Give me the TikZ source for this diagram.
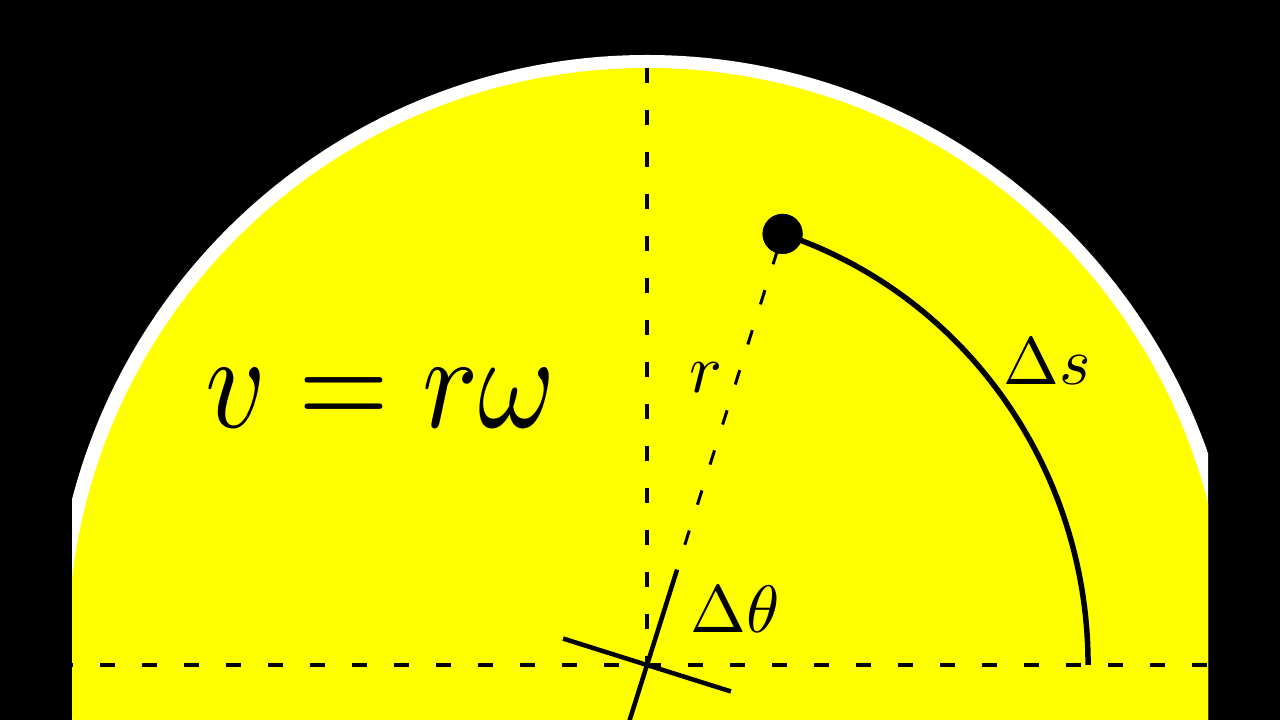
\documentclass[tikz,border=0pt]{standalone}
\usetikzlibrary{positioning,calc}
\definecolor{disk}{RGB}{255,255,0}

\begin{document}
\begin{tikzpicture}[x=1pt, y=1pt,
    guide/.style={line width=3.5pt, dash pattern=on 15pt off 27pt},
    radline/.style={line width=3pt, dash pattern=on 15pt off 27pt},
    tickline/.style={line width=4.5pt},
    tag/.style={anchor=base west, inner sep=0pt}]
  \useasboundingbox (0,0) rectangle (1280,720);
  \clip (0,0) rectangle (1280,720);
  \fill[black] (0,0) rectangle (1280,720);
  % disk
  \begin{scope}
    \clip (72,0) rectangle (1208,720);
    \fill[white] (647,71) circle (594pt);
    \fill[disk] (647,73) circle (579pt);
  \end{scope}
  \coordinate (O) at (647,55);
  \coordinate (top) at (647,652);
  \coordinate (left) at (72,55);
  \coordinate (right) at (1208,55);
  \coordinate (up) at ($(O)+(72.5:100)$);
  \coordinate (down) at ($(O)+(252.5:90)$);
  \coordinate (tl) at ($(O)+(162.5:88)$);
  \coordinate (tr) at ($(O)+(-17.5:88)$);
  \node (dot) [circle, fill=black, minimum size=40pt, inner sep=0pt] at (782.6,486.1) {};
  % guides
  \draw[guide] (top) -- (O);
  \draw[guide, dash phase=14pt] (left) -- (right);
  \draw[radline] (O) -- (dot.center);
  \draw[tickline] (down) -- (up);
  \draw[tickline] (tl) -- (tr);
  \draw[line width=5.5pt] (dot.center) arc[start angle=72.1, end angle=0, x radius=441pt, y radius=453pt] coordinate (arcend);
  \node (dot2) [circle, fill=black, minimum size=40pt, inner sep=0pt] at (dot) {};
  % labels
  \node (law) [tag, xscale=11.7, yscale=13.6] at (203,292) {$v\mkern5mu{=}\mkern5mu r\omega$};
  \node (rlab) [tag, scale=6.9] at (688,327) {$r$};
  \node (slab) [tag, scale=6.7] at (1002,335) {$\Delta s$};
  \node (thlab) [tag, scale=6.7] at (689,87) {$\Delta\theta$};
\end{tikzpicture}
\end{document}
